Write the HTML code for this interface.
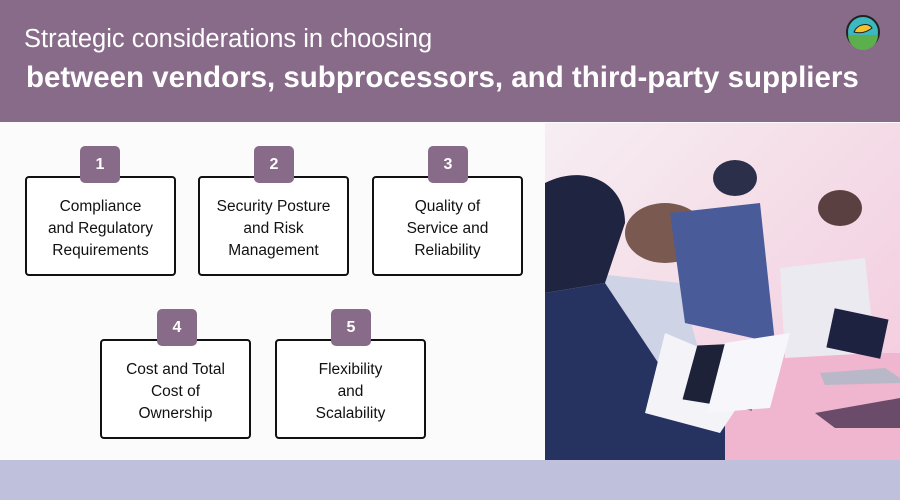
<!DOCTYPE html>
<html><head><style>
body{margin:0;width:900px;height:500px;overflow:hidden;background:#fbfbfb;font-family:"Liberation Sans",sans-serif;position:relative}
.hdr{position:absolute;left:0;top:0;width:900px;height:122px;background:#886a89}
.t1{position:absolute;left:24px;top:25px;color:#fff;font-size:25.5px}
.t2{position:absolute;left:26px;top:61px;color:#fff;font-size:29.5px;font-weight:bold}
.box{position:absolute;width:151px;height:100px;border:2px solid #111;border-radius:4px;background:#fff;display:flex;align-items:center;justify-content:center;text-align:center;font-size:15.5px;line-height:22px;color:#111;box-sizing:border-box;padding-top:6px}
.b{position:absolute;width:40px;height:37px;background:#886a89;border-radius:5px;color:#fff;font-weight:bold;font-size:16px;display:flex;align-items:center;justify-content:center}
.foot{position:absolute;left:0;top:460px;width:900px;height:40px;background:#bfc0dc}
.img{position:absolute;left:545px;top:123px;width:355px;height:337px;overflow:hidden;background:linear-gradient(135deg,#f6eef2,#f3c9dc)}
</style></head><body>
<div class="hdr"></div>
<div class="t1">Strategic considerations in choosing</div>
<div class="t2">between vendors, subprocessors, and third-party suppliers</div>
<svg style="position:absolute;left:845px;top:14px" width="36" height="36"><circle cx="18" cy="18" r="16" fill="#3cb9c0" stroke="#222" stroke-width="2"/><path d="M3 21 H33 A15 15 0 0 1 3 21Z" fill="#5bb04d"/><path d="M9 18 C12 10 24 8 27 14 C22 18 16 20 9 18Z" fill="#f2c32d" stroke="#222" stroke-width="1"/></svg>
<div class="box" style="left:25px;top:176px">Compliance<br>and Regulatory<br>Requirements</div>
<div class="box" style="left:198px;top:176px">Security Posture<br>and Risk<br>Management</div>
<div class="box" style="left:372px;top:176px">Quality of<br>Service and<br>Reliability</div>
<div class="box" style="left:100px;top:339px">Cost and Total<br>Cost of<br>Ownership</div>
<div class="box" style="left:275px;top:339px">Flexibility<br>and<br>Scalability</div>
<div class="b" style="left:80px;top:146px">1</div>
<div class="b" style="left:254px;top:146px">2</div>
<div class="b" style="left:428px;top:146px">3</div>
<div class="b" style="left:157px;top:309px">4</div>
<div class="b" style="left:331px;top:309px">5</div>
<div class="img">
<svg width="355" height="337">
<rect x="150" y="230" width="205" height="107" fill="#f0b5cf"/>
<ellipse cx="120" cy="110" rx="40" ry="30" fill="#7a5a50"/>
<path d="M45 150 L135 160 L160 250 L120 337 L45 337Z" fill="#cfd3e6"/>
<path d="M125 90 L215 80 L230 220 L140 200Z" fill="#4a5b9a"/>
<ellipse cx="190" cy="55" rx="22" ry="18" fill="#2b2f4a"/>
<ellipse cx="295" cy="85" rx="22" ry="18" fill="#5a4040"/>
<path d="M235 145 L320 135 L330 230 L240 235Z" fill="#eceaf1"/>
<path d="M0 60 C40 40 80 60 80 100 L60 160 L0 170Z" fill="#1f2440"/>
<path d="M0 170 L60 160 L120 250 L180 300 L180 337 L0 337Z" fill="#263361"/>
<path d="M120 210 L215 250 L175 310 L100 290Z" fill="#f4f4f8"/>
<path d="M150 225 L225 215 L210 285 L140 280Z" fill="#1d2238" transform="rotate(5 180 250)"/>
<path d="M180 220 L245 210 L225 285 L162 290Z" fill="#f7f7fb"/>
<rect x="285" y="190" width="55" height="40" fill="#1d2240" transform="rotate(12 310 210)"/>
<path d="M270 290 L355 275 L355 305 L290 305Z" fill="#6a4c6a"/>
<path d="M275 250 L340 245 L355 255 L355 260 L280 262Z" fill="#b8b8c8"/>
</svg>
</div>
<div class="foot"></div>
</body></html>
